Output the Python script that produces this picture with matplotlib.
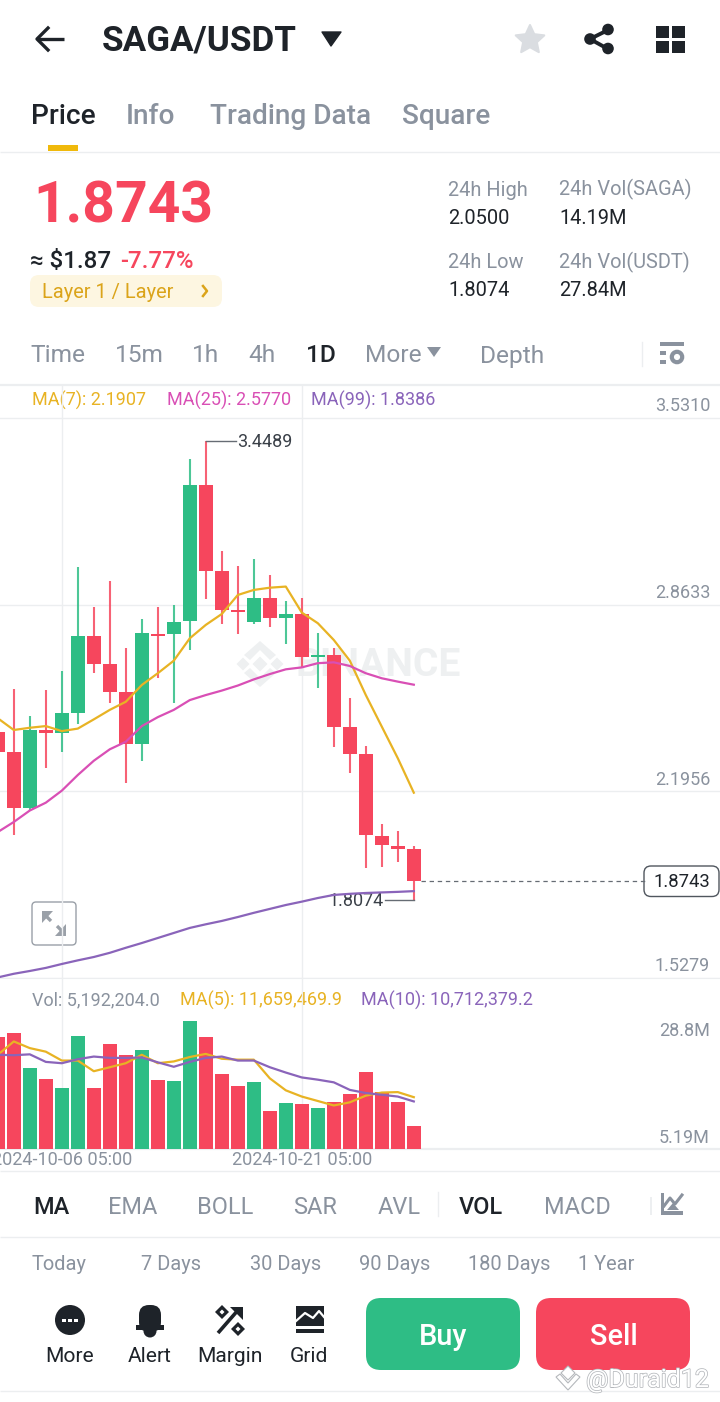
import matplotlib
matplotlib.use('Agg')
import matplotlib.pyplot as plt
import matplotlib.patheffects as pe
from matplotlib.patches import Circle, FancyBboxPatch, Polygon, Rectangle, Wedge
import numpy as np

# daily candles, 2024-10-02 .. 2024-10-28
opens = [2.409, 2.335, 2.137, 2.415, 2.405, 2.475, 2.751, 2.651, 2.552, 2.364,
         2.760, 2.758, 2.805, 3.291, 2.982, 2.844, 2.802, 2.887, 2.816, 2.831,
         2.676, 2.683, 2.426, 2.328, 2.036, 2.001, 1.988]
highs = [2.409, 2.562, 2.465, 2.558, 2.626, 2.999, 2.854, 2.948, 2.707, 2.811,
         2.854, 2.861, 3.384, 3.4489, 3.056, 3.002, 3.026, 2.968, 2.878, 2.888,
         2.761, 2.707, 2.528, 2.358, 2.078, 2.055, 2.000]
lows = [2.337, 2.040, 2.126, 2.278, 2.337, 2.437, 2.618, 2.511, 2.224, 2.305,
        2.600, 2.511, 2.701, 2.884, 2.794, 2.758, 2.793, 2.785, 2.722, 2.639,
        2.566, 2.355, 2.262, 1.920, 1.926, 1.943, 1.8074]
closes = [2.337, 2.137, 2.415, 2.405, 2.475, 2.751, 2.651, 2.552, 2.364, 2.761,
          2.752, 2.802, 3.291, 2.982, 2.844, 2.836, 2.887, 2.816, 2.830, 2.677,
          2.683, 2.426, 2.328, 2.038, 2.003, 1.989, 1.8743]

ma7 = [2.457, 2.415, 2.423, 2.429, 2.411, 2.420, 2.453, 2.487, 2.516, 2.576,
       2.618, 2.663, 2.743, 2.791, 2.830, 2.898, 2.916, 2.924, 2.928, 2.835,
       2.797, 2.737, 2.663, 2.540, 2.427, 2.314, 2.1907]
ma25 = [2.050, 2.086, 2.127, 2.155, 2.198, 2.254, 2.305, 2.346, 2.373, 2.429,
        2.461, 2.487, 2.522, 2.540, 2.556, 2.574, 2.596, 2.615, 2.632, 2.639,
        2.654, 2.657, 2.644, 2.618, 2.600, 2.588, 2.5770]
ma99 = [1.530, 1.543, 1.553, 1.564, 1.578, 1.591, 1.603, 1.618, 1.636, 1.653,
        1.671, 1.689, 1.707, 1.720, 1.732, 1.746, 1.761, 1.775, 1.789, 1.801,
        1.814, 1.825, 1.829, 1.832, 1.834, 1.836, 1.8386]

# volume in millions
volumes = [25.1, 26.0, 18.3, 15.8, 13.7, 25.5, 13.7, 23.6, 21.2, 22.2,
           15.6, 15.4, 28.8, 25.2, 16.9, 14.2, 15.1, 8.6, 10.4, 10.2,
           9.2, 10.5, 12.4, 17.4, 12.9, 10.6, 5.19]
vol_ma5 = [21.2, 24.2, 22.7, 21.9, 19.9, 19.9, 17.5, 18.4, 19.3, 21.2,
           19.3, 19.7, 20.7, 21.4, 20.3, 20.1, 20.1, 15.9, 13.2, 11.8,
           10.8, 9.8, 10.5, 12.0, 12.7, 12.8, 11.66]
vol_ma10 = [21.2, 21.1, 21.3, 19.6, 19.3, 20.2, 20.8, 20.5, 20.5, 20.6,
            19.5, 18.5, 19.6, 20.5, 20.8, 19.9, 19.9, 18.4, 17.2, 16.1,
            15.6, 15.0, 13.3, 12.6, 12.2, 11.8, 10.7]

price_ticks = [3.5310, 2.8633, 2.1956, 1.5279]
date_ticks = [4, 19]
date_labels = ['2024-10-06 05:00', '2024-10-21 05:00']

tabs = ['Price', 'Info', 'Trading Data', 'Square']
intervals = ['Time', '15m', '1h', '4h', '1D', 'More', 'Depth']
indicators = ['MA', 'EMA', 'BOLL', 'SAR', 'AVL', 'VOL', 'MACD']
ranges = ['Today', '7 Days', '30 Days', '90 Days', '180 Days', '1 Year']
nav_items = ['More', 'Alert', 'Margin', 'Grid']

GREEN = '#2EBD85'
RED = '#F6465D'
DARK = '#1E2329'
GRAY = '#8A929E'
LINE = '#ECEEF0'
YELLOW = '#E8B324'
PINK = '#D94FB5'
PURPLE = '#8A64BA'
FONT = ['Roboto', 'DejaVu Sans']

W, H = 720, 1402
fig = plt.figure(figsize=(W / 100, H / 100), dpi=100, facecolor='white')

# the page itself, in pixels, sits under the two chart panels
ui = fig.add_axes([0, 0, 1, 1], zorder=0)
ui.set_xlim(0, W)
ui.set_ylim(H, 0)
ui.axis('off')


def txt(x, y, s, size, color=GRAY, ha='left', weight='normal', family=FONT, **kw):
    # size is in pixels here, 1px = 0.72pt at dpi 100
    return ui.text(x, y, s, fontsize=size * 0.72, color=color, ha=ha, va='center',
                   fontweight=weight, family=family, **kw)


def hline(y, x0=0, x1=W, lw=1.0, color=LINE):
    ui.plot([x0, x1], [y, y], color=color, lw=lw, solid_capstyle='butt')


def box(x0, y0, x1, y1, r, **kw):
    p = FancyBboxPatch((x0 + r, y0 + r), x1 - x0 - 2 * r, y1 - y0 - 2 * r,
                       boxstyle=f'round,pad={r},rounding_size={r}', **kw)
    ui.add_patch(p)


def diamond(cx, cy, r, color):
    ui.add_patch(Polygon([(cx, cy - r), (cx + r, cy), (cx, cy + r), (cx - r, cy)],
                         closed=True, fc=color, ec='none'))


# header
ui.plot([37, 64], [39, 39], color=DARK, lw=2.4, solid_capstyle='butt')
ui.plot([48, 37, 48], [28, 39, 50], color=DARK, lw=2.4)
txt(102, 41, 'SAGA/USDT', 35, DARK, weight='bold')
ui.add_patch(Polygon([(322, 32), (341, 32), (331, 46)], closed=True, fc=DARK, ec=DARK, lw=1, joinstyle='round'))
angles = np.deg2rad(np.arange(-90, 270, 36))
radii = np.array([15, 7.2] * 5)
ui.add_patch(Polygon(np.c_[530 + radii * np.cos(angles), 40 + radii * np.sin(angles)],
                     closed=True, fc='#DADDE1', ec='#DADDE1', lw=1.5, joinstyle='round'))
ui.plot([608, 590, 608], [30, 39, 49], color=DARK, lw=2.8)
for cx, cy in [(608, 29.5), (590, 39), (608, 48.5)]:
    ui.add_patch(Circle((cx, cy), 5.8, fc=DARK, ec='none'))
for x0, y0 in [(656, 26), (672, 26), (656, 41), (672, 41)]:
    ui.add_patch(Rectangle((x0, y0), 12.5, 12, fc=DARK, ec='none'))

# tabs
for label, x, col in zip(tabs, [31, 126, 210, 402], [DARK, GRAY, GRAY, GRAY]):
    txt(x, 117, label, 28, col, weight='medium')
ui.add_patch(Rectangle((48, 145), 30, 6, fc='#F0B90B', ec='none'))
hline(152)

# price summary
txt(33, 207, '1.8743', 57, RED, weight='bold')
txt(30, 261, '≈ $1.87', 24, DARK, weight='medium')
txt(120, 261, '-7.77%', 24, RED, weight='medium')
box(30, 275, 222, 307, 9, fc='#FDF6E1', ec='none')
txt(42, 292, 'Layer 1 / Layer', 20, '#DBA41A')
ui.plot([203, 207, 203], [286, 291, 296], color='#DBA41A', lw=1.8)
txt(448, 191, '24h High', 20)
txt(448, 219, '2.0500', 20, DARK)
txt(559, 189, '24h Vol(SAGA)', 20)
txt(559, 218, '14.19M', 20, DARK)
txt(448, 263, '24h Low', 20)
txt(448, 291, '1.8074', 20, DARK)
txt(559, 262, '24h Vol(USDT)', 20)
txt(559, 290, '27.84M', 20, DARK)

# interval row
for label, x in zip(intervals, [30, 115, 192, 248, 306, 365, 480]):
    txt(x, 356, label, 24.5, DARK if label == '1D' else GRAY, weight='medium' if label == '1D' else 'normal')
ui.add_patch(Polygon([(427, 347), (441, 347), (434, 357)], closed=True, fc=GRAY, ec='none'))
ui.plot([642, 642], [342, 366], color=LINE, lw=1)
ui.add_patch(Rectangle((660, 342), 24, 3.5, fc=GRAY, ec='none'))
ui.add_patch(Rectangle((660, 351), 6, 3.5, fc=GRAY, ec='none'))
ui.add_patch(Rectangle((660, 360), 6, 3.5, fc=GRAY, ec='none'))
ui.add_patch(Circle((677, 357), 5.2, fc='white', ec=GRAY, lw=3))

# legends over the panels
txt(32, 400, 'MA(7): 2.1907', 18, YELLOW)
txt(167, 400, 'MA(25): 2.5770', 18, PINK)
txt(311, 400, 'MA(99): 1.8386', 18, PURPLE)
txt(32, 1000, 'Vol: 5,192,204.0', 18)
txt(180, 1000, 'MA(5): 11,659,469.9', 18, YELLOW)
txt(361, 1000, 'MA(10): 10,712,379.2', 18, PURPLE)
txt(710, 1031, '28.8M', 18, ha='right')
txt(710, 1138, '5.19M', 18, ha='right')

# exchange watermark behind the candles
wm = '#EEF0F1'
ui.add_patch(Polygon([(260, 641), (276, 655), (270, 660), (260, 650), (250, 660), (244, 655)], closed=True, fc=wm, ec='none'))
ui.add_patch(Polygon([(260, 687), (276, 673), (270, 668), (260, 678), (250, 668), (244, 673)], closed=True, fc=wm, ec='none'))
diamond(260, 664, 7.5, wm)
diamond(243, 664, 6.5, wm)
diamond(277, 664, 6.5, wm)
txt(295, 666, 'BINANCE', 39, wm, weight='bold')

# expand button
box(32, 902, 76, 945, 4, fc='white', ec='#9AA0A8', lw=1)
ui.plot([46, 51], [916, 921], color='#9AA0A8', lw=2.4, solid_capstyle='butt')
ui.plot([57, 62], [926, 931], color='#9AA0A8', lw=2.4, solid_capstyle='butt')
ui.add_patch(Polygon([(42, 911), (53, 911), (42, 923)], closed=True, fc='#9AA0A8', ec='none'))
ui.add_patch(Polygon([(66, 936), (55, 936), (66, 924)], closed=True, fc='#9AA0A8', ec='none'))

# current price tag
box(644, 866, 719, 896.5, 7, fc='white', ec='#50565E', lw=1)
txt(682, 882, '1.8743', 18.5, DARK, ha='center')

# indicator row
hline(1171)
hline(1237)
for label, x in zip(indicators, [33, 108, 197, 293, 378, 459, 544]):
    active = label in ('MA', 'VOL')
    txt(x, 1207, label, 23.5, DARK if active else GRAY, weight='medium' if active else 'normal')
ui.plot([438, 438], [1192, 1216], color=LINE, lw=1)
ui.plot([651, 651], [1198, 1214], color='#EDEFF1', lw=1.4)
ui.add_patch(Polygon([(661, 1193), (664, 1193), (664, 1211), (683, 1211), (683, 1215), (661, 1215)], closed=True, fc=GRAY, ec='none'))
ui.plot([664, 670, 675, 682], [1206, 1198, 1204, 1195], color=GRAY, lw=2.2)
ui.add_patch(Polygon([(667, 1210), (673, 1203), (679, 1210)], closed=True, fc=GRAY, ec='none'))

# range row
for label, x in zip(ranges, [32, 141, 250, 359, 468, 578]):
    txt(x, 1265, label, 20)

# bottom navigation
for label, x in zip(nav_items, [70, 150, 230, 309]):
    txt(x, 1357, label, 21, DARK, ha='center')
ui.add_patch(Circle((70, 1320), 15, fc=DARK, ec='none'))
for x in [62, 68, 74]:
    ui.add_patch(Rectangle((x, 1318.5), 3.6, 3.4, fc='white', ec='none'))
box(139, 1305, 161, 1332, 10, fc=DARK, ec='none')
ui.add_patch(Rectangle((136, 1325), 28, 4.5, fc=DARK, ec='none'))
ui.add_patch(Wedge((150, 1331), 6.5, 0, 180, fc=DARK, ec='none'))
ui.plot([218, 239], [1333, 1309], color=DARK, lw=2.6, solid_capstyle='butt')
ui.add_patch(Polygon([(230, 1307), (243, 1307), (243, 1320)], closed=True, fc=DARK, ec='none'))
for cx, cy in [(222, 1312), (238, 1329)]:
    diamond(cx, cy, 7, DARK)
    diamond(cx, cy, 2.5, 'white')
ui.add_patch(Rectangle((296, 1306), 28, 20, fc=DARK, ec='none'))
ui.plot([296, 305, 313, 319, 324], [1321, 1313, 1318, 1311, 1317], color='white', lw=1.6)
ui.add_patch(Rectangle((296, 1329), 28, 4, fc=DARK, ec='none'))

box(366, 1298, 520, 1370, 15, fc=GREEN, ec='none')
box(536, 1298, 690, 1370, 15, fc=RED, ec='none')
txt(443, 1337, 'Buy', 29, 'white', ha='center', weight='medium')
txt(614, 1337, 'Sell', 29, 'white', ha='center', weight='medium')
hline(1391)

# price panel
PX_PER_UNIT = 186.67 / 0.6677
PX_PER_MILLION = 128 / 28.8
x0_idx, x1_idx = 2.2 / 16, (W + 2.2) / 16

ax = fig.add_axes([0, 1 - 978 / H, 1, (978 - 385) / H], zorder=1)
ax.patch.set_alpha(0)
ax.set_xlim(x0_idx, x1_idx)
ax.set_ylim(1.5279, 3.5310 + 33 / PX_PER_UNIT)

idx = np.arange(len(opens))
o, h, l, c = map(np.array, (opens, highs, lows, closes))
colors = [GREEN if ci >= oi else RED for oi, ci in zip(o, c)]

ax.set_axisbelow(True)
ax.set_xticks(date_ticks)
ax.set_yticks(price_ticks)
ax.grid(True, color=LINE, lw=1)
ax.tick_params(length=0, labelbottom=False, labelleft=False)
for s in ('left', 'right'):
    ax.spines[s].set_visible(False)
ax.spines['top'].set_color(LINE)
ax.spines['top'].set_linewidth(1.6)
ax.spines['bottom'].set_color(LINE)

ax.vlines(idx, l, h, colors=colors, lw=1.5, zorder=2, alpha=0.85)
ax.bar(idx, np.maximum(np.abs(c - o), 0.006), bottom=np.minimum(o, c), width=0.875, color=colors, zorder=3)

ax.plot(idx, ma7, color=YELLOW, lw=1.6, zorder=4)
ax.plot(idx, ma25, color=PINK, lw=1.6, zorder=4)
ax.plot(idx, ma99, color=PURPLE, lw=1.6, zorder=4)

for p in price_ticks:
    ax.annotate(f'{p:.4f}', (1, p), xycoords=ax.get_yaxis_transform(), xytext=(-7.2, 8.5),
                textcoords='offset points', ha='right', va='center', fontsize=18 * 0.72,
                color=GRAY, family=FONT)

# high / low markers and last price line
ax.plot([13, 14.9], [max(highs)] * 2, color='#666C74', lw=1, zorder=2)
ax.text(14.95, max(highs) - 0.003, f'{max(highs):.4f}', fontsize=18 * 0.72, color='#3A4048', va='center', family=FONT)
ax.plot([26, 24.2], [min(lows)] * 2, color='#666C74', lw=1, zorder=2)
ax.text(24.15, min(lows) - 0.003, f'{min(lows):.4f}', fontsize=18 * 0.72, color='#3A4048', va='center', ha='right', family=FONT)
ax.plot([26.45, 40.45], [closes[-1]] * 2, color='#666C74', lw=0.9, ls=(0, (3.5, 3)))

# volume panel
vx = fig.add_axes([0, 1 - 1149 / H, 1, (1149 - 978) / H], zorder=1)
vx.patch.set_alpha(0)
vx.set_xlim(x0_idx, x1_idx)
vx.set_ylim(0, 171 / PX_PER_MILLION)
vx.set_axisbelow(True)
vx.set_yticks([])
vx.set_xticks(date_ticks)
vx.set_xticklabels(date_labels, fontsize=18 * 0.72, color=GRAY, family=FONT)
vx.grid(True, axis='x', color=LINE, lw=1)
vx.tick_params(length=0, pad=1.5)
for s in ('left', 'right', 'top'):
    vx.spines[s].set_visible(False)
vx.spines['bottom'].set_color(LINE)
vx.spines['bottom'].set_linewidth(1.6)

vx.bar(idx, volumes, width=0.875, color=colors, zorder=3)
vx.plot(idx, vol_ma5, color=YELLOW, lw=1.6, zorder=4)
vx.plot(idx, vol_ma10, color=PURPLE, lw=1.6, zorder=4)

# repost watermark, on top of everything
top = fig.add_axes([0, 0, 1, 1], zorder=2)
top.set_xlim(0, W)
top.set_ylim(H, 0)
top.axis('off')
t = top.text(586, 1380, '@Duraid12', fontsize=25 * 0.72, color='white', va='center', family=FONT)
t.set_path_effects([pe.withStroke(linewidth=1.1, foreground='#B5B8BC')])
for pts in ([(568, 1366), (575, 1373), (568, 1380), (561, 1373)],
            [(556, 1377), (568, 1390), (580, 1377), (576, 1374), (568, 1383), (560, 1374)]):
    top.add_patch(Polygon(pts, closed=True, fc='white', ec='#B5B8BC', lw=0.8))

fig.savefig('out.png', dpi=100, facecolor='white')
